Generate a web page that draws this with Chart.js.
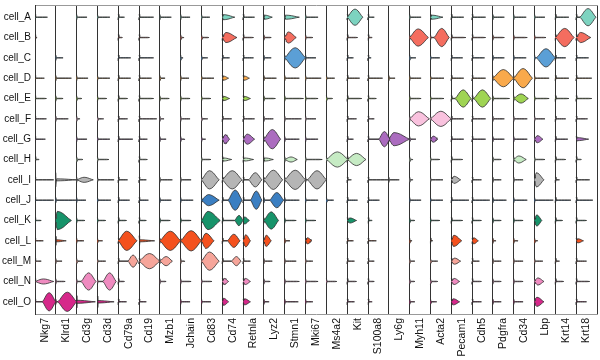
<!DOCTYPE html>
<html>
<head>
<meta charset="utf-8">
<script src="https://cdn.jsdelivr.net/npm/chart.js@4.4.0/dist/chart.umd.min.js"></script>
<style>
  body { margin: 0; background: #fff; }
</style>
</head>
<body>
<canvas id="violins" width="600" height="360"></canvas>
<script>
const genes = ['Nkg7', 'Klrd1', 'Cd3g', 'Cd3d', 'Cd79a', 'Cd19', 'Mzb1', 'Jchain', 'Cd83', 'Cd74',
  'Retnla', 'Lyz2', 'Stmn1', 'Mki67', 'Ms4a2', 'Kit', 'S100a8', 'Ly6g', 'Myh11', 'Acta2',
  'Pecam1', 'Cdh5', 'Pdgfra', 'Cd34', 'Lbp', 'Krt14', 'Krt18']
const cells = ['cell_A', 'cell_B', 'cell_C', 'cell_D', 'cell_E', 'cell_F', 'cell_G', 'cell_H',
  'cell_I', 'cell_J', 'cell_K', 'cell_L', 'cell_M', 'cell_N', 'cell_O']
const cellColors = ['#7dd3c0', '#f46d5f', '#5b9fd6', '#f9a94b', '#9fd453', '#f9c2de', '#ab6cbf', '#c6ebc4',
  '#b5b5b5', '#3b7fc2', '#17936a', '#f4511e', '#f6a59a', '#ef8bc0', '#d6288a']

// max expression per cell (rows) x gene (cols), in column widths
const exprMax = [
  [.6, 0, .5, .6, .3, .7, .55, .45, .4, .6, .55, .4, .7, .6, 0, .75, .3, 0, .55, .6, .6, .65, .55, .6, .5, .65, .95],
  [.1, 0, 0, 0, .2, .5, 0, .15, .35, .7, .5, .35, .55, .35, 0, .5, .2, 0, .9, .9, .7, .65, .55, .65, .55, .9, .7],
  [0, .35, 0, 0, .6, .7, 0, .1, .3, .35, .5, .35, 1, .5, 0, .3, .15, 0, .3, .45, .55, .6, .55, .6, 1, .5, .6],
  [.45, .75, .55, .6, .6, .6, .25, .4, .6, .3, .3, .6, .7, .75, .4, .6, .7, .3, .55, .65, .6, .65, 1, .9, .7, .65, .75],
  [.55, .35, .25, .45, .45, .7, .45, .45, .45, .35, .35, .55, .9, .6, .3, .7, .4, 0, .55, .65, .95, .9, .8, .7, .7, .65, .75],
  [.55, .6, .15, .3, .45, .85, .2, .45, .3, .45, .55, .45, .8, .5, 0, .45, .3, 0, .95, 1, .6, .65, .55, .65, .5, .5, .55],
  [.5, 0, .5, .6, .7, .4, .3, .2, .2, .35, .55, .8, .7, .6, 0, .3, 1.05, 1, .3, .35, .6, .65, .55, .65, .4, .6, .6],
  [.2, 0, .3, .55, 0, .4, 0, 0, .45, .45, .5, .45, .6, .8, 1.05, .9, 0, 0, .15, .45, .55, 0, .4, .6, .5, .5, .25],
  [.9, 1, .8, .8, .45, .35, .6, .5, .85, .95, .9, .9, 1, 1, 0, .2, 1, .5, .15, .6, .45, .45, .4, .45, .45, .2, .65],
  [.9, 1, .45, .65, .55, .45, .55, .6, .85, .95, .9, .95, .7, .6, .35, .5, .55, 0, .55, .6, .85, .85, .65, .65, .9, .75, .8],
  [.3, .75, .4, .4, .4, .35, .5, .5, .9, 1, .3, .7, .55, .5, 0, .45, .2, 0, .25, .45, .55, .45, .4, .45, .35, .35, .5],
  [.4, .5, .35, .25, .9, .75, 1, 1, .6, .85, .35, .35, .25, .3, 0, .3, .4, 0, .1, .1, .5, .3, .15, .2, .15, 0, .35],
  [.3, .3, .3, .4, .95, 1, .6, .2, .85, .9, .35, .4, .55, .35, 0, .35, .3, 0, .25, .35, .45, .35, .4, .45, .4, .2, .5],
  [.9, .45, .93, .9, .3, 0, .3, .5, .5, .3, .35, .3, .7, .6, .5, .45, .3, 0, .25, .35, .4, .45, .4, .45, .45, .4, .65],
  [1, 1, .9, .8, .4, .35, 0, .45, .45, .3, .35, .25, .65, .35, 0, .35, .2, 0, .25, .3, .4, .45, .4, .45, .45, 0, .5]
]

// visible bodies: [cell, gene, half width (1 = full row), widest point (fraction of length)]
const bodies = [
  [0, 9, .25, .1], [0, 11, .2, .1], [0, 12, .2, .1], [0, 15, .8, .5], [0, 19, .2, .1], [0, 26, .85, .6],
  [1, 9, .5, .25], [1, 12, .55, .3], [1, 18, .85, .45], [1, 19, .9, .6], [1, 25, .9, .5], [1, 26, .5, .3],
  [2, 12, 1, .5], [2, 24, .9, .55],
  [3, 9, .2, .2], [3, 10, .2, .2], [3, 22, .85, .5], [3, 23, .95, .5],
  [4, 9, .2, .2], [4, 10, .2, .2], [4, 20, .85, .6], [4, 21, .85, .55], [4, 23, .45, .5],
  [5, 18, .7, .45], [5, 19, .75, .5],
  [6, 9, .45, .4], [6, 10, .5, .35], [6, 11, .95, .5], [6, 16, .75, .75], [6, 17, .65, .25], [6, 19, .3, .4], [6, 24, .35, .35], [6, 26, .15, .1],
  [7, 9, .15, .15], [7, 10, .15, .15], [7, 11, .15, .15], [7, 12, .25, .5], [7, 14, .75, .5], [7, 15, .6, .5], [7, 23, .35, .4],
  [8, 1, .1, .05], [8, 2, .25, .45], [8, 8, .9, .45], [8, 9, .9, .5], [8, 10, .7, .65], [8, 11, .95, .5], [8, 12, .95, .5], [8, 13, .9, .55], [8, 20, .35, .3], [8, 24, .7, .2],
  [9, 8, .55, .4], [9, 9, 1, .65], [9, 10, .9, .7], [9, 11, .75, .65],
  [10, 1, .9, .1], [10, 8, .9, .35], [10, 9, .5, .8], [10, 10, .35, .2], [10, 11, .85, .5], [10, 15, .25, .3], [10, 24, .55, .3],
  [11, 1, .1, .05], [11, 4, .95, .45], [11, 5, .1, .05], [11, 6, .95, .5], [11, 7, 1, .5], [11, 8, .75, .35], [11, 9, .65, .65],
  [11, 10, .6, .35], [11, 11, .55, .3], [11, 13, .3, .3], [11, 20, .55, .25], [11, 21, .3, .25], [11, 26, .2, .25],
  [12, 4, .6, .75], [12, 5, .75, .5], [12, 6, .45, .5], [12, 8, .9, .45], [12, 9, .45, .75], [12, 20, .3, .35],
  [13, 0, .25, .45], [13, 2, .85, .62], [13, 3, .85, .65], [13, 9, .3, .3], [13, 10, .3, .3], [13, 20, .3, .35], [13, 24, .35, .35],
  [14, 0, .9, .68], [14, 1, .95, .55], [14, 2, .15, .03], [14, 3, .12, .03], [14, 9, .35, .2], [14, 10, .3, .2], [14, 20, .3, .25], [14, 24, .45, .25]
]

// taller zero-spikes at the baseline: [cell, gene, height in rows]
const spikes = [[8, 1, .35], [14, 2, .3], [14, 3, .28], [11, 5, .25], [11, 1, .22]]

// rising flank of a body, as it looks on the larger violins
const profile = [0, .22, .5, .76, .93, 1]

const thin = 0.012
const baseSpike = 0.14

function flank(u) {
  const f = u * (profile.length - 1)
  const i = Math.floor(f)
  if (i >= profile.length - 1) return profile[profile.length - 1]
  return profile[i] + (profile[i + 1] - profile[i]) * (f - i)
}

// half widths along one violin, t in column units
function outline(len, wid, peak, spike) {
  const px = peak * len
  const start = Math.max(0, 2 * px - len)
  const bump = t => {
    if (!wid || t < start || t > len) return 0
    const u = t <= px ? (px > start ? (t - start) / (px - start) : 1) : (len - t) / (len - px)
    return flank(u) * wid * 0.5
  }
  const ts = new Set([0, 0.03, len])
  profile.forEach((_, i) => {
    const u = i / (profile.length - 1)
    ts.add(start + u * (px - start))
    ts.add(len - u * (len - px))
  })
  return [...ts].filter(t => t >= 0 && t <= len).sort((a, b) => a - b)
    .map(t => ({ t, h: t === len ? 0 : Math.max(t === 0 ? spike : thin, bump(t)) }))
}

const datasets = []
cells.forEach((cell, r) => {
  genes.forEach((gene, g) => {
    const len = exprMax[r][g]
    if (!len) return
    const body = bodies.find(b => b[0] === r && b[1] === g)
    const sp = spikes.find(s => s[0] === r && s[1] === g)
    const pts = outline(len, body ? body[2] : 0, body ? body[3] : 0, sp ? sp[2] : baseSpike)
    const top = pts.map(p => ({ x: g + p.t, y: r - p.h }))
    const bottom = pts.slice().reverse().map(p => ({ x: g + p.t, y: r + p.h }))
    datasets.push({
      data: top.concat(bottom),
      borderColor: '#2e2e2e',
      borderWidth: 0.8,
      backgroundColor: cellColors[r],
      fill: 'shape',
      pointRadius: 0,
      tension: 0
    })
  })
})

const font = { family: 'Liberation Sans, Arial, sans-serif', size: 10.5 }

new Chart(document.getElementById('violins'), {
  type: 'line',
  data: { datasets },
  options: {
    responsive: false,
    animation: false,
    events: [],
    layout: { padding: { right: 3 } },
    plugins: {
      legend: { display: false },
      tooltip: { enabled: false }
    },
    scales: {
      x: {
        type: 'linear', position: 'top', min: 0, max: 27,
        afterBuildTicks: s => { s.ticks = genes.map((_, i) => ({ value: i })).concat([{ value: 27 }]) },
        ticks: { display: false },
        grid: { color: '#333', lineWidth: 1, drawTicks: false },
        border: { color: '#999' },
        afterFit: s => { s.height = 5; s.paddingLeft = 0; s.paddingRight = 0 }
      },
      xb: {
        type: 'linear', position: 'bottom', min: 0, max: 27,
        afterBuildTicks: s => { s.ticks = genes.map((_, i) => ({ value: i + 0.5 })) },
        ticks: {
          autoSkip: false, maxRotation: 90, minRotation: 90, padding: 4,
          callback: (v, i) => genes[i], color: '#111', font
        },
        grid: { display: false, drawTicks: false },
        border: { color: '#999' },
        afterFit: s => { s.height = 46; s.paddingLeft = 0; s.paddingRight = 0 }
      },
      y: {
        type: 'linear', reverse: true, min: -0.6, max: 14.6,
        afterBuildTicks: s => { s.ticks = cells.map((_, i) => ({ value: i })) },
        ticks: {
          autoSkip: false, padding: 4,
          callback: (v, i) => cells[i], color: '#111', font: { ...font, size: 10 }
        },
        grid: { display: false, drawTicks: false },
        border: { color: '#333' },
        afterFit: s => { s.width = 35; s.paddingTop = 0; s.paddingBottom = 0 }
      }
    }
  }
})
</script>
</body>
</html>
